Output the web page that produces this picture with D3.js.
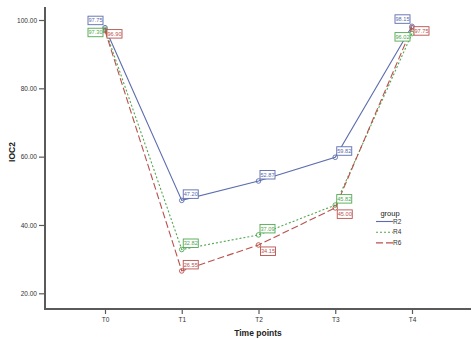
<!DOCTYPE html>
<html><head><meta charset="utf-8">
<script src="https://cdn.jsdelivr.net/npm/d3@7"></script>
<style>body{margin:0;background:#fff}svg{display:block;font-family:"Liberation Sans",Arial,sans-serif}</style>
</head><body><svg id="c" width="474" height="339"></svg>
<script>
const timePoints = ["T0","T1","T2","T3","T4"];
const groups = ["R2","R4","R6"];
const r2Values = [97.75, 47.20, 52.87, 59.82, 98.15];
const r4Values = [97.30, 32.82, 37.09, 45.82, 96.02];
const r6Values = [96.90, 26.55, 34.15, 45.00, 97.75];
const yTicks = [20, 40, 60, 80, 100];

const seriesValues = [r2Values, r4Values, r6Values];
const colors = ["#5b6cae", "#4fa84f", "#b9514c"];
const dashes = [null, "2,2", "7,3"];
// label placement per series per time point
const place = [
  ["ul","ur","ur","ur","ul"],
  ["l","ur","ur","ur","l"],
  ["r","ur","dr","dr","r"]
];

const svg = d3.select("#c");
const x = d3.scalePoint().domain(timePoints).range([105, 412]);
const y = d3.scaleLinear().domain([20, 100]).range([293.3, 20]);
const axisColor = "#5a5a5a";

// axis lines
svg.append("line").attr("x1",45).attr("x2",45).attr("y1",7).attr("y2",309.5)
  .attr("stroke",axisColor).attr("stroke-width",2);
svg.append("line").attr("x1",44).attr("x2",471).attr("y1",309).attr("y2",309)
  .attr("stroke",axisColor).attr("stroke-width",2);

const yAxis = svg.append("g").attr("transform","translate(44,0)")
  .call(d3.axisLeft(y).tickValues(yTicks).tickFormat(d3.format(".2f")).tickSize(5).tickPadding(2));
yAxis.select(".domain").remove();
yAxis.selectAll("line").attr("stroke",axisColor).attr("stroke-width",1.2);
yAxis.selectAll("text").attr("font-size",6.5).attr("fill","#333");

const xAxis = svg.append("g").attr("transform","translate(0,309)")
  .call(d3.axisBottom(x).tickSize(5).tickPadding(3));
xAxis.select(".domain").remove();
xAxis.selectAll("line").attr("stroke",axisColor).attr("stroke-width",1.2);
xAxis.selectAll("text").attr("font-size",6.5).attr("fill","#333");

svg.append("text").attr("x",258).attr("y",336).attr("text-anchor","middle")
  .attr("font-size",8.5).attr("font-weight","bold").attr("fill","#222").text("Time points");
svg.append("text").attr("transform","translate(15,152) rotate(-90)").attr("text-anchor","middle")
  .attr("font-size",8.5).attr("font-weight","bold").attr("fill","#222").text("IOC2");

const line = d3.line().x((d,i)=>x(timePoints[i])).y(d=>y(d));

seriesValues.forEach((vals, s) => {
  svg.append("path").attr("d", line(vals)).attr("fill","none")
    .attr("stroke", colors[s]).attr("stroke-width",1.1)
    .attr("stroke-dasharray", dashes[s]);
  svg.selectAll(null).data(vals).enter().append("circle")
    .attr("cx",(d,i)=>x(timePoints[i])).attr("cy",d=>y(d)).attr("r",2.3)
    .attr("fill","none").attr("stroke",colors[s]).attr("stroke-width",0.9);
});

// value labels
const bw = 15, bh = 8.5;
seriesValues.forEach((vals, s) => {
  vals.forEach((v, i) => {
    const px = x(timePoints[i]), py = y(v);
    let bx, by;
    switch (place[s][i]) {
      case "ul": bx = px - 2 - bw; by = py - 3 - bh; break;
      case "l":  bx = px - 2 - bw; by = py - 1; break;
      case "r":  bx = px + 2; by = py - 1; break;
      case "ur": bx = px + 1.5; by = py - 2 - bh; break;
      case "dr": bx = px + 2; by = py + 2; break;
    }
    const g = svg.append("g");
    g.append("rect").attr("x",bx).attr("y",by).attr("width",bw).attr("height",bh)
      .attr("fill","#fff").attr("stroke",colors[s]).attr("stroke-width",0.9);
    g.append("text").attr("x",bx+bw/2).attr("y",by+bh/2).attr("dy","0.35em")
      .attr("text-anchor","middle").attr("font-size",5.6).attr("fill",colors[s])
      .text(v.toFixed(2));
  });
});

// legend
svg.append("text").attr("x",390).attr("y",215.5).attr("text-anchor","middle")
  .attr("font-size",7.5).attr("fill","#222").text("group");
groups.forEach((gname, s) => {
  const ly = 221.5 + s * 10.7;
  svg.append("line").attr("x1",376).attr("x2",393).attr("y1",ly).attr("y2",ly)
    .attr("stroke",colors[s]).attr("stroke-width",1.1).attr("stroke-dasharray",dashes[s]);
  svg.append("text").attr("x",393).attr("y",ly).attr("dy","0.35em")
    .attr("font-size",6.5).attr("fill","#333").text(gname);
});
</script></body></html>
